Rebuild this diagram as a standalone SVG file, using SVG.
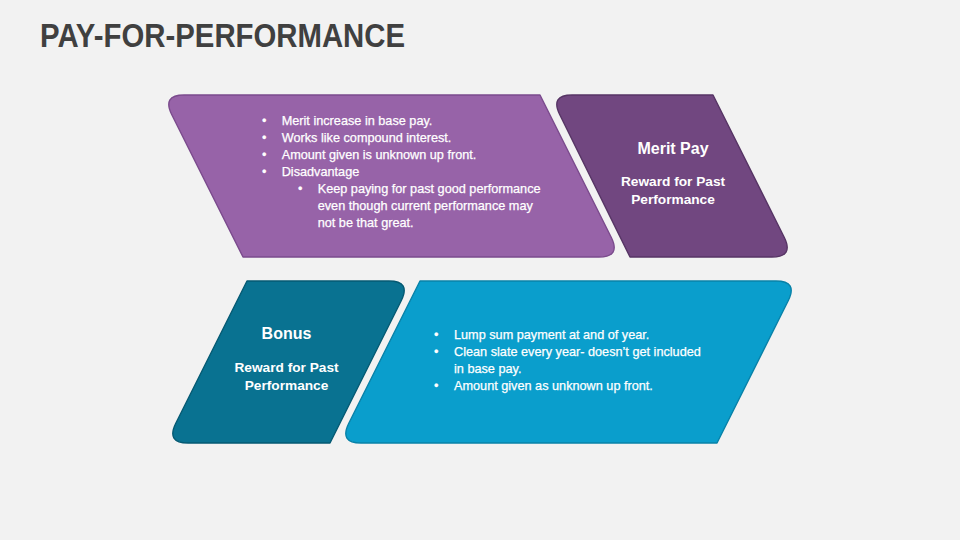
<svg xmlns="http://www.w3.org/2000/svg" width="960" height="540" viewBox="0 0 960 540">
  <style>
    .title { font-family: "Liberation Sans", Arial, sans-serif; font-weight: bold; font-size: 33px; fill: #404040; }
    .body { font-family: "Liberation Sans", Arial, sans-serif; font-size: 12.7px; fill: #ffffff; stroke: #ffffff; stroke-width: 0.25; }
    .head { font-family: "Liberation Sans", Arial, sans-serif; font-weight: bold; font-size: 16px; fill: #ffffff; text-anchor: middle; }
    .sub { font-family: "Liberation Sans", Arial, sans-serif; font-weight: bold; font-size: 13.7px; fill: #ffffff; text-anchor: middle; }
    .shape { stroke-width: 1.4; stroke-linejoin: round; }
    .p1 { fill: #9763A8; stroke: #7B4B8D; }
    .p2 { fill: #714780; stroke: #573565; }
    .b1 { fill: #097291; stroke: #055A73; }
    .b2 { fill: #0A9ECC; stroke: #0882A8; }
  </style>
  <rect x="0" y="0" width="960" height="540" fill="#F2F2F2"/>
  <text class="title" x="40" y="47" textLength="365" lengthAdjust="spacingAndGlyphs">PAY-FOR-PERFORMANCE</text>

  <g id="merit-details">
    <path class="shape p1" d="M184,95 L540,95 L611.2,237.3 Q621,257 599,257 L243,257 L171.8,114.7 Q162,95 184,95 Z"/>
    <text class="body" x="262" y="125">•</text>
    <text class="body" x="281.7" y="125">Merit increase in base pay.</text>
    <text class="body" x="262" y="142">•</text>
    <text class="body" x="281.7" y="142">Works like compound interest.</text>
    <text class="body" x="262" y="159">•</text>
    <text class="body" x="281.7" y="159">Amount given is unknown up front.</text>
    <text class="body" x="262" y="176">•</text>
    <text class="body" x="281.7" y="176">Disadvantage</text>
    <text class="body" x="298" y="193">•</text>
    <text class="body" x="317.7" y="193">Keep paying for past good performance</text>
    <text class="body" x="317.7" y="210">even though current performance may</text>
    <text class="body" x="317.7" y="227">not be that great.</text>
  </g>

  <g id="merit-pay">
    <path class="shape p2" d="M572,95 L713,95 L784.2,237.3 Q794,257 772,257 L630,257 L559.8,114.7 Q550,95 572,95 Z"/>
    <text class="head" x="673" y="154">Merit Pay</text>
    <text class="sub" x="673" y="186">Reward for Past</text>
    <text class="sub" x="673" y="204">Performance</text>
  </g>

  <g id="bonus">
    <path class="shape b1" d="M247,281 L389,281 Q411,281 401.2,300.7 L330,443 L188,443 Q166,443 175.8,423.3 Z"/>
    <text class="head" x="286.5" y="339">Bonus</text>
    <text class="sub" x="286.5" y="372">Reward for Past</text>
    <text class="sub" x="286.5" y="390">Performance</text>
  </g>

  <g id="bonus-details">
    <path class="shape b2" d="M420,281 L776,281 Q798,281 788.2,300.7 L717,443 L361,443 Q339,443 348.8,423.3 Z"/>
    <text class="body" x="434" y="339">•</text>
    <text class="body" x="454" y="339">Lump sum payment at and of year.</text>
    <text class="body" x="434" y="356">•</text>
    <text class="body" x="454" y="356">Clean slate every year- doesn’t get included</text>
    <text class="body" x="454" y="373">in base pay.</text>
    <text class="body" x="434" y="390">•</text>
    <text class="body" x="454" y="390">Amount given as unknown up front.</text>
  </g>
</svg>
